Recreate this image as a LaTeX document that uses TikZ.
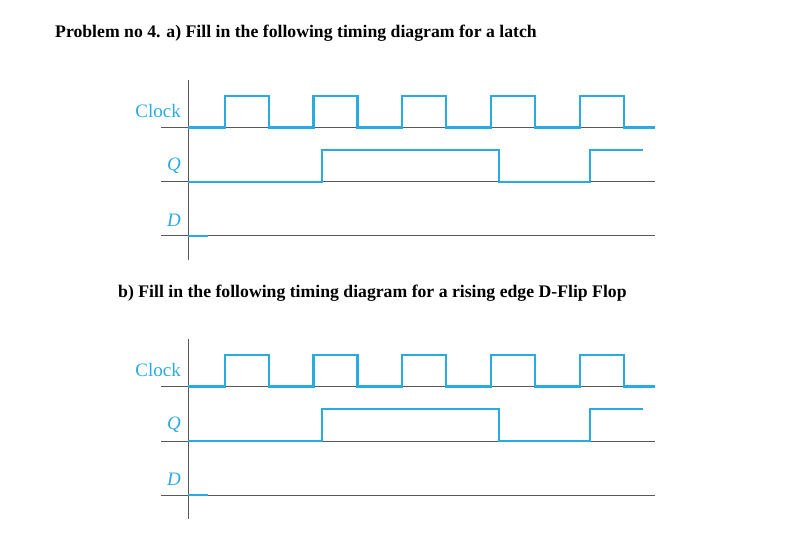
\documentclass[tikz,border=0pt]{standalone}
\usepackage{fontspec}
\setmainfont{Liberation Serif}
\usepackage{tikz}
\usetikzlibrary{positioning}
\definecolor{sigblue}{RGB}{41,171,226}
\tikzset{
    baseline/.style={draw=black!65, line width=1pt},
    signal/.style={draw=sigblue, line width=2.6pt},
    siglabel/.style={text=sigblue, font=\fontsize{19}{22}\selectfont, anchor=east, inner sep=0pt},
    heading/.style={font=\bfseries\fontsize{17.7}{20}\selectfont, anchor=west, inner sep=0pt},
}
\newcommand{\timingpart}[1]{%
  \begin{scope}[yshift=-#1]
      % axis and grey baselines
      \draw[baseline] (188,80) -- (188,260);
      \foreach \yb in {127.5,182,236}
          \draw[baseline] (161,\yb) -- (655,\yb);
      % labels
      \node[siglabel] (clk) at (181,111) {Clock};
      \node[siglabel] (q) at (181,166) {\textit{Q}};
      \node[siglabel] (d) at (181,220) {\textit{D}};
      % clock
      \draw[signal] (188,127.5)
          \foreach \x in {225,313.5,402,491,580} {
              -- (\x,127.5) -- (\x,96) -- (\x+44,96) -- (\x+44,127.5)
          } -- (655,127.5);
      % Q
      \draw[signal] (188,182) -- (322,182) -- (322,150) -- (499,150)
          -- (499,182) -- (590,182) -- (590,150) -- (643,150);
      % D
      \draw[signal] (188,236) -- (208,236);
  \end{scope}}

\begin{document}
\begin{tikzpicture}[x=1pt,y=-1pt]
      \useasboundingbox (0,0) rectangle (790,540);
      \node[heading] (title1) at (55,33) {Problem no 4. a) Fill in the following timing diagram for a latch};
      \timingpart{0pt}
      \node[heading] (title2) at (118,293) {b) Fill in the following timing diagram for a rising edge D-Flip Flop};
      \timingpart{259pt}
\end{tikzpicture}
\end{document}
